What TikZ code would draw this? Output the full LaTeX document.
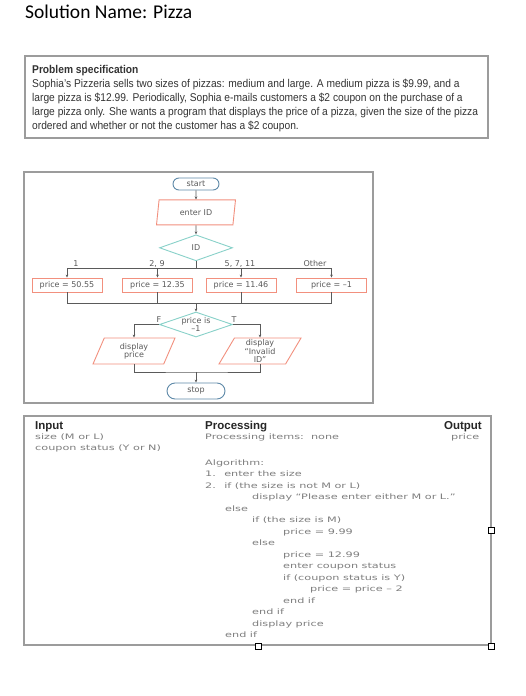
\documentclass[tikz,border=0pt]{standalone}
\usepackage{fontspec}
\setmainfont{Liberation Sans}
\newfontfamily\titlefont{Carlito}
\newfontfamily\specfont[FakeStretch=0.905]{Liberation Sans}
\newfontfamily\chartfont{DejaVu Sans}
\newfontfamily\handfont[FakeStretch=1.5]{DejaVu Sans}
\usetikzlibrary{arrows.meta, positioning, shapes.geometric, shapes.misc}

\definecolor{frame}{HTML}{9C9C9C}
\definecolor{term}{HTML}{5E89A8}
\definecolor{iocol}{HTML}{F2907E}
\definecolor{decide}{HTML}{88D1C9}
\definecolor{ink}{HTML}{5A5A5A}
\definecolor{pencil}{HTML}{7E7E7E}

\begin{document}
\begin{tikzpicture}[
    x=1pt, y=-1pt,
    % Panels
    panel/.style={draw=frame, line width=1.4pt},
    % Flowchart shapes
    chart/.style={font=\chartfont\fontsize{8}{8.3}\selectfont, text=ink, align=center, inner sep=1pt},
    terminal/.style={chart, rounded rectangle, draw=term, line width=0.9pt, minimum height=12pt},
    inout/.style={chart, trapezium, trapezium left angle=#1, trapezium right angle=180-#1,
        trapezium stretches body, draw=iocol, line width=0.9pt},
    inout/.default=72,
    decision/.style={chart, diamond, aspect=2.8, draw=decide, line width=0.9pt,
        minimum width=73pt, minimum height=26pt, inner sep=0pt},
    pricebox/.style={chart, rectangle, draw=iocol, line width=0.9pt,
        minimum width=70pt, minimum height=14pt},
    branch/.style={chart, inner sep=0pt},
    line/.style={draw=ink, line width=0.7pt},
    flow/.style={line, -{Stealth[length=3pt, width=2.6pt]}},
    % Text blocks
    header/.style={font=\bfseries\fontsize{11.5}{12}\selectfont, text=black!85, inner sep=0pt},
    hand/.style={font=\handfont\fontsize{7.5}{11.5}\selectfont, text=pencil, align=left, inner sep=0pt},
    handle/.style={draw=black, fill=white, line width=0.8pt, minimum size=6pt, inner sep=0pt},
]

\path[fill=white, use as bounding box] (0,0) rectangle (526,696);

% Title
\node[font=\titlefont\fontsize{19.5}{22}\selectfont, anchor=base west, inner sep=0pt] (title) at (25,19) {Solution Name: Pizza};

% ---------------------------------------------------------------
% Problem specification
% ---------------------------------------------------------------
\draw[panel] (25,56) rectangle (488,138);
\node[font=\specfont\fontsize{11.3}{14}\selectfont, text=black!80, align=left, anchor=north west, inner sep=0pt] (spec) at (32,64.8) {
    \textbf{Problem specification}\\
    Sophia’s Pizzeria sells two sizes of pizzas: medium and large. A medium pizza is \$9.99, and a\\
    large pizza is \$12.99. Periodically, Sophia e-mails customers a \$2 coupon on the purchase of a\\
    large pizza only. She wants a program that displays the price of a pizza, given the size of the pizza\\
    ordered and whether or not the customer has a \$2 coupon.};

% ---------------------------------------------------------------
% Flowchart
% ---------------------------------------------------------------
\draw[panel] (24,172) rectangle (373,403);

\node[terminal, minimum width=48pt] (start) at (196,184) {start};
\node[inout, minimum width=79pt, minimum height=25pt, below=9pt of start] (enterid) {enter ID};
\node[decision, below=9pt of enterid] (id) {ID};

\coordinate (bus) at (196,268);
\node[pricebox] (p1) at (67,285) {price = 50.55};
\node[pricebox] (p2) at (157.5,285) {price = 12.35};
\node[pricebox] (p3) at (241,285) {price = 11.46};
\node[pricebox] (p4) at (331.5,285) {price = –1};

\draw[flow] (start) -- (enterid);
\draw[flow] (enterid) -- (id);
\draw[line] (id) -- (bus);
\draw[line] (p1 |- bus) -- (p4 |- bus);
\draw[flow] (p1 |- bus) -- (p1);
\draw[flow] (p2 |- bus) -- (p2);
\draw[flow] (p3 |- bus) -- (p3);
\draw[flow] (p4 |- bus) -- (p4);

% Branch labels
\node[branch, anchor=base] (l1) at (76,266) {1};
\node[branch, anchor=base] (l29) at (157,266) {2, 9};
\node[branch, anchor=base] (l5711) at (240,266) {5, 7, 11};
\node[branch, anchor=base] (lother) at (315,266) {Other};

% Second decision
\coordinate (join) at (196,303);
\node[decision, minimum height=25pt] (check) at (196,324.5) {price is\\–1};
\draw[line] (p1) -- (p1 |- join) -- (p4 |- join) -- (p4);
\draw[line] (p2) -- (p2 |- join);
\draw[line] (p3) -- (p3 |- join);
\draw[flow] (join) -- (check);

\node[inout=58, minimum width=82pt, minimum height=26pt] (showprice) at (134,351) {display\\price};
\node[inout=58, minimum width=82pt, minimum height=26pt] (showinvalid) at (260,351) {display\\“Invalid\\ID”};
\draw[flow] (check.west) -| (showprice);
\draw[flow] (check.east) -| (showinvalid);
\node[branch, anchor=base] (lf) at (159,322) {F};
\node[branch, anchor=base] (lt) at (234,322) {T};

\coordinate (merge) at (196,372);
\node[terminal, minimum width=60pt, minimum height=16pt] (stop) at (196,391) {stop};
\draw[line] (showprice) |- (merge) -| (showinvalid);
\draw[flow] (merge) -- (stop);

% ---------------------------------------------------------------
% Input / Processing / Output
% ---------------------------------------------------------------
\draw[panel] (24,416) rectangle (491,645);

\node[header, anchor=base west] (input) at (35,429) {Input};
\node[header, anchor=base west] (processing) at (205,429) {Processing};
\node[header, anchor=base east] (output) at (482,429) {Output};

\node[hand, anchor=north west] (inputs) at (35,433.3) {
    size (M or L)\\
    coupon status (Y or N)};
\node[hand, anchor=north west] (items) at (205,433.3) {Processing items:\ \ none};
\node[hand, anchor=base west] (outputs) at (451,439) {price};

\node[hand, anchor=north west] (algorithm) at (205,459.3) {
    Algorithm:\\
    1. \ enter the size\\
    2. \ if (the size is not M or L)\\
    \hspace*{47pt}display “Please enter either M or L.”\\
    \hspace*{20pt}else\\
    \hspace*{47pt}if (the size is M)\\
    \hspace*{78pt}price = 9.99\\
    \hspace*{47pt}else\\
    \hspace*{78pt}price = 12.99\\
    \hspace*{78pt}enter coupon status\\
    \hspace*{78pt}if (coupon status is Y)\\
    \hspace*{105pt}price = price – 2\\
    \hspace*{78pt}end if\\
    \hspace*{47pt}end if\\
    \hspace*{47pt}display price\\
    \hspace*{20pt}end if};

% Selection handles
\node[handle] (h1) at (491,530) {};
\node[handle] (h2) at (491,646) {};
\node[handle] (h3) at (258,646) {};

\end{tikzpicture}
\end{document}
